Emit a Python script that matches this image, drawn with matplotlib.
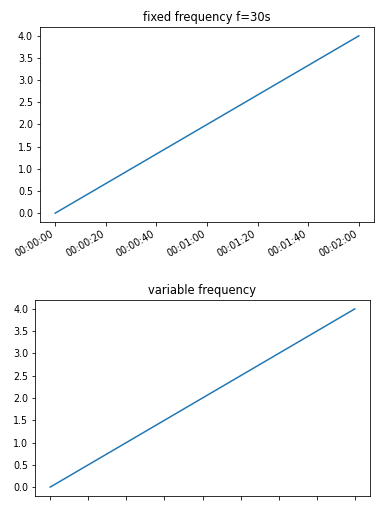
import numpy as np
import pandas as pd
import matplotlib
matplotlib.use("Agg")
import matplotlib.pyplot as plt
import matplotlib.dates as mdates

# top panel: samples every 30 s
fixed_times = pd.to_datetime(["1970-01-01 00:00:00", "1970-01-01 00:00:30",
                              "1970-01-01 00:01:00", "1970-01-01 00:01:30",
                              "1970-01-01 00:02:00"])
fixed_values = [0, 1, 2, 3, 4]

# bottom panel: variable sampling, tick labels hidden
variable_x = [0, 1, 2, 3, 4, 5, 6, 7, 8]
variable_values = [0, 0.5, 1.0, 1.5, 2.0, 2.5, 3.0, 3.5, 4.0]

W, H = 390, 516
fig = plt.figure(figsize=(W / 72, H / 72), dpi=72)

ax1 = fig.add_axes([40 / W, 1 - 222 / H, 334 / W, 195 / H])
ax1.plot(fixed_times, fixed_values)
ax1.set_title("fixed frequency f=30s", fontsize=11.5)
ax1.xaxis.set_major_locator(mdates.SecondLocator(bysecond=[0, 20, 40]))
ax1.xaxis.set_major_formatter(mdates.DateFormatter("%H:%M:%S"))
ax1.set_yticks(np.arange(0, 4.5, 0.5))
for lbl in ax1.get_xticklabels():
    lbl.set_rotation(30)
    lbl.set_ha("right")
ax1.tick_params(labelsize=9.5)

ax2 = fig.add_axes([35 / W, 1 - 496 / H, 335 / W, 196 / H])
ax2.plot(variable_x, variable_values)
ax2.set_title("variable frequency", fontsize=11.5)
ax2.set_xticks(variable_x)
ax2.set_xticklabels([])
ax2.set_yticks(np.arange(0, 4.5, 0.5))
ax2.tick_params(labelsize=9.5)

fig.savefig("out.png", dpi=72)
